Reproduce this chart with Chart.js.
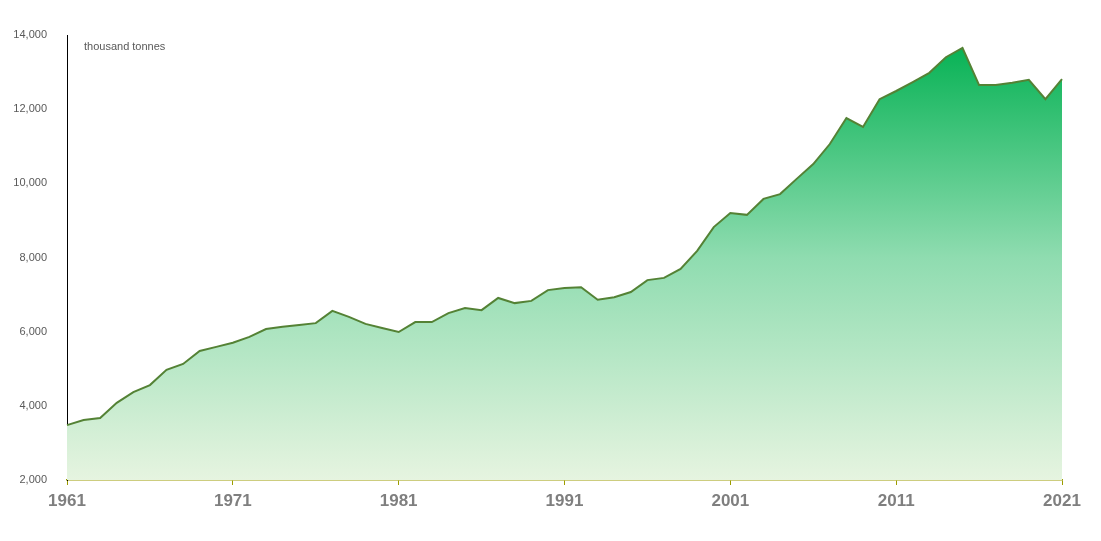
<!DOCTYPE html>
<html><head><meta charset="utf-8">
<script src="https://cdn.jsdelivr.net/npm/chart.js@4/dist/chart.umd.min.js"></script>
<style>
html,body{margin:0;padding:0;background:#fff;}
#wrap{position:relative;width:1101px;height:541px;}
#unit{position:absolute;left:84px;top:40px;font:11px "Liberation Sans",Arial,sans-serif;color:#595959;}
</style></head><body>
<div id="wrap"><canvas id="c" width="1101" height="541"></canvas><div id="unit">thousand tonnes</div></div>
<script>
const years = [];
for (let y = 1961; y <= 2021; y++) years.push(String(y));
const production = [3480,3620,3670,4080,4370,4560,4970,5130,5480,5590,
5700,5860,6070,6130,6180,6230,6560,6400,6210,6100,
5990,6260,6260,6500,6640,6580,6910,6770,6830,7120,
7180,7200,6860,6930,7070,7390,7450,7690,8180,8820,
9200,9150,9580,9710,10120,10520,11060,11760,11520,12270,
12490,12730,12980,13400,13650,12650,12650,12710,12790,12270,12810];
const yTicks = [2000,4000,6000,8000,10000,12000,14000];

new Chart(document.getElementById('c'), {
  type: 'line',
  data: { labels: years, datasets: [{
    data: production,
    borderColor: '#548235', borderWidth: 2, pointRadius: 0, tension: 0,
    fill: 'origin',
    backgroundColor: (ctx) => {
      const a = ctx.chart.chartArea; if (!a) return 'rgba(0,176,80,0.5)';
      const g = ctx.chart.ctx.createLinearGradient(0, a.top, 0, a.bottom);
      g.addColorStop(0, '#00b050'); g.addColorStop(0.5, '#8fdcb0'); g.addColorStop(1, '#e6f4e0');
      return g;
    }
  }]},
  options: {
    responsive: false, animation: false,
    layout: { padding: { top: 35, right: 39, left: 0, bottom: 0 } },
    plugins: { legend: { display: false }, tooltip: { enabled: false } },
    scales: {
      x: {
        offset: false,
        afterFit: s => { s.height = 61; },
        border: { color: '#9c9c00', width: 1.5 },
        grid: { drawOnChartArea: false, tickLength: 5,
          color: c => ((c.index % 10) === 0 ? '#9c9c00' : 'rgba(0,0,0,0)') },
        ticks: { autoSkip: false, maxRotation: 0, color: '#7f7f7f', padding: 6,
          font: { family: 'Liberation Sans', size: 17, weight: 'bold' },
          callback: (v, i) => (i % 10 === 0 ? years[i] : '') }
      },
      y: {
        min: 2000, max: 14000,
        afterFit: s => { s.width = 67; },
        afterBuildTicks: s => { s.ticks = yTicks.map(v => ({ value: v })); },
        border: { color: '#000', width: 1 },
        grid: { display: false },
        ticks: { color: '#595959', padding: 12, font: { family: 'Liberation Sans', size: 11 } }
      }
    }
  }
});
</script></body></html>
